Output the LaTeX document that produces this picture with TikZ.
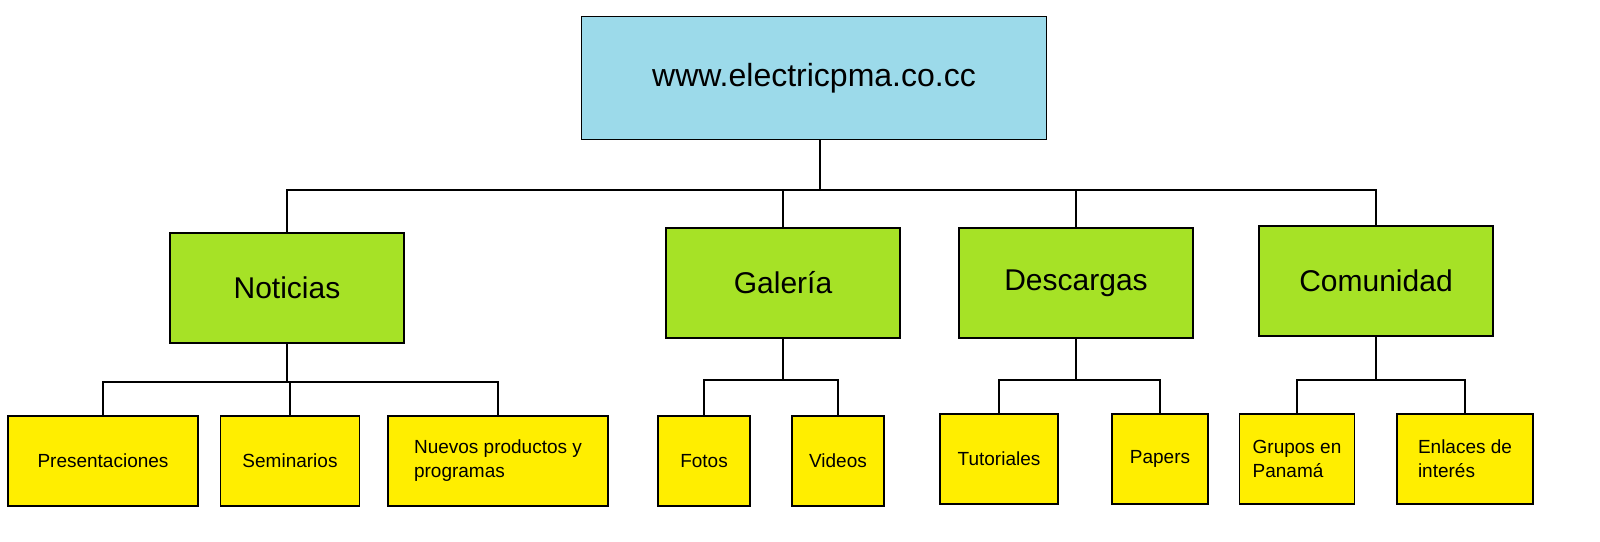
\documentclass[tikz,border=0pt]{standalone}
\usepackage{fontspec}
\setmainfont{Liberation Sans}
\begin{document}
\begin{tikzpicture}[x=1pt,y=-1pt,
 box/.style={draw=black,line width=1.2pt,inner sep=0pt},
 topbox/.style={box,fill={rgb,255:red,156;green,218;blue,234},minimum width=465pt,minimum height=123pt,font=\fontsize{32}{36}\selectfont},
 midbox/.style={box,fill={rgb,255:red,166;green,226;blue,38},minimum width=234pt,minimum height=110pt,font=\fontsize{30}{34}\selectfont},
 leaf/.style={box,fill={rgb,255:red,255;green,238;blue,0},minimum height=90pt,font=\fontsize{19}{24}\selectfont,align=left},
 ln/.style={line width=1.2pt}]
\useasboundingbox (0,0) rectangle (1600,541);
\node[topbox] (top) at (814,78) {www.electricpma.co.cc};
\node[midbox] (n) at (287,288) {Noticias};
\node[midbox] (g) at (783,283) {Galería};
\node[midbox] (d) at (1076,283) {Descargas};
\node[midbox] (c) at (1376,281) {Comunidad};
\node[leaf,minimum width=190pt] (p1) at (103,461) {Presentaciones};
\node[leaf,minimum width=139pt] (p2) at (290,461) {Seminarios};
\node[leaf,minimum width=220pt] (p3) at (498,461) {Nuevos productos y\\programas};
\node[leaf,minimum width=92pt] (g1) at (704,461) {Fotos};
\node[leaf,minimum width=92pt] (g2) at (838,461) {Videos};
\node[leaf,minimum width=118pt] (d1) at (999,459) {Tutoriales};
\node[leaf,minimum width=96pt] (d2) at (1160,459) {Papers};
\node[leaf,minimum width=115pt] (c1) at (1297,459) {Grupos en\\Panamá};
\node[leaf,minimum width=136pt] (c2) at (1465,459) {Enlaces de\\interés};
\coordinate (h) at (820,190);
\draw[ln] (top.south -| h) -- (h);
\draw[ln] (n.north) |- (h) -| (c.north);
\draw[ln] (g.north) -- (g.north |- h);
\draw[ln] (d.north) -- (d.north |- h);
\foreach \pp/\a/\b/\yy in {n/p1/p3/382,g/g1/g2/380,d/d1/d2/380,c/c1/c2/380}{
  \draw[ln] (\pp.south) -- (\pp.south |- 0,\yy);
  \draw[ln] (\a.north) -- (\a.north |- 0,\yy) -| (\b.north);
}
\draw[ln] (p2.north) -- (p2.north |- 0,382);
\end{tikzpicture}
\end{document}
